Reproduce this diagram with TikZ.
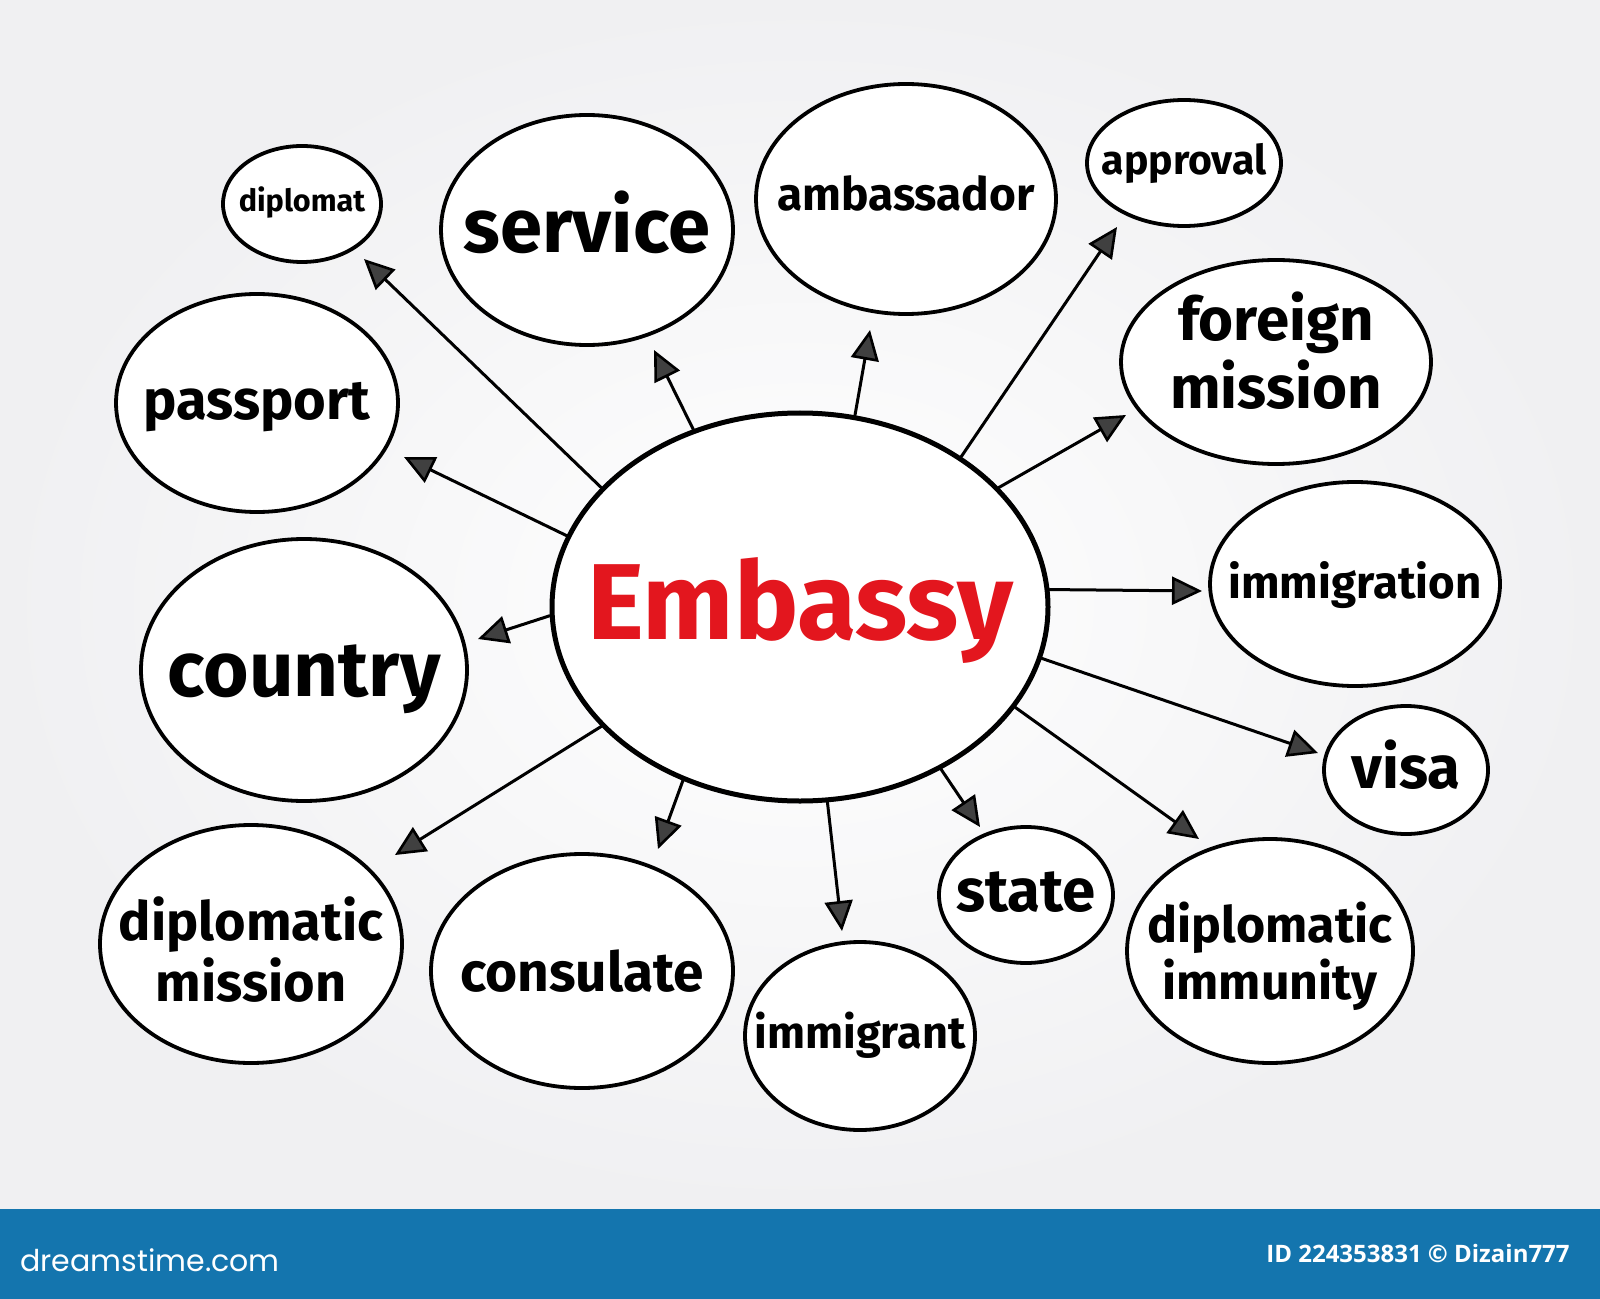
\documentclass[tikz,border=0pt]{standalone}
\usepackage{fontspec}
\setmainfont{Fira Sans}
\newfontfamily\bannerfont{Poppins}
\newfontfamily\idfont{Open Sans}
\usetikzlibrary{shapes.geometric,arrows.meta}
\definecolor{bgedge}{HTML}{F0F0F2}
\definecolor{bannerblue}{HTML}{1475AE}
\definecolor{embred}{HTML}{E3161E}
\newcommand\zt[2][0pt]{\raisebox{-#1}[\height][\depth]{\makebox[0pt]{\begin{tabular}{@{}c@{}}#2\end{tabular}}}}
\newcommand\fs[2]{\fontsize{#1}{#2}\selectfont}
\begin{document}
\begin{tikzpicture}[x=0.5pt,y=-0.5pt,
  bub/.style={ellipse, draw=black, line width=1.9pt, fill=white, inner sep=0pt, font=\bfseries},
  arr/.style={line width=1.5pt, line cap=round, line join=round,
    -{Triangle[length=15pt,width=14pt,fill=black!75,line width=1.3pt]}}]
\useasboundingbox (0,0) rectangle (1600,1299);
\shade[inner color=white, outer color=bgedge] (0,0) rectangle (1600,1209);
\fill[bannerblue] (0,1209) rectangle (1600,1299);
\node[font=\bannerfont\fs{15}{18}, text=white, anchor=base west, inner sep=0pt] (dt) at (20,1271) {dreamstime.com};
\node[font=\idfont\bfseries\fs{12}{14}, text=white, anchor=base east, inner sep=0pt] (id) at (1570,1262) {ID 224353831 © Dizain777};

% central node
\node[bub, line width=2.5pt, minimum width=248pt, minimum height=194pt, font=\bfseries\fs{54}{60}, text=embred] (emb) at (800,607) {\zt[4pt]{Embassy}};

% outer nodes
\node[bub, minimum width=79pt, minimum height=58pt, font=\bfseries\fs{15.3}{17}] (diplomat) at (302,204) {\zt{diplomat}};
\node[bub, minimum width=146pt, minimum height=115pt, font=\bfseries\fs{38}{40}] (service) at (587,230) {\zt[2pt]{service}};
\node[bub, minimum width=150pt, minimum height=115pt, font=\bfseries\fs{23}{25}] (ambassador) at (906,199) {\zt[1pt]{ambassador}};
\node[bub, minimum width=97pt, minimum height=63pt, font=\bfseries\fs{20.5}{22}] (approval) at (1184,163) {\zt[1.5pt]{approval}};
\node[bub, minimum width=155pt, minimum height=102pt, font=\bfseries\fs{30}{32}] (foreign) at (1276,362) {\zt[-1pt]{foreign\\mission}};
\node[bub, minimum width=141pt, minimum height=109pt, font=\bfseries\fs{28}{30}] (passport) at (257,403) {\zt[2pt]{passport}};
\node[bub, minimum width=145pt, minimum height=102pt, font=\bfseries\fs{22.8}{25}] (immigration) at (1355,584) {\zt[2pt]{immigration}};
\node[bub, minimum width=163pt, minimum height=131pt, font=\bfseries\fs{39}{41}] (country) at (304,670) {\zt[5pt]{country}};
\node[bub, minimum width=82pt, minimum height=64pt, font=\bfseries\fs{30}{32}] (visa) at (1406,770) {\zt[2pt]{visa}};
\node[bub, minimum width=151pt, minimum height=119pt, font=\bfseries\fs{27}{30}] (dipmission) at (251,944) {\zt[7pt]{diplomatic\\mission}};
\node[bub, minimum width=151pt, minimum height=117pt, font=\bfseries\fs{27.5}{30}] (consulate) at (582,971) {\zt[4pt]{consulate}};
\node[bub, minimum width=115pt, minimum height=94pt, font=\bfseries\fs{22.5}{25}] (immigrant) at (860,1036) {\zt[1pt]{immigrant}};
\node[bub, minimum width=87pt, minimum height=68pt, font=\bfseries\fs{30}{32}] (state) at (1026,895) {\zt[2pt]{state}};
\node[bub, minimum width=143pt, minimum height=112pt, font=\bfseries\fs{25}{28}] (dipimmunity) at (1270,951) {\zt[4pt]{diplomatic\\immunity}};

% arrow tips (free ends)
\coordinate (t1) at (364,259);
\coordinate (t2) at (654,350);
\coordinate (t3) at (870,330);
\coordinate (t4) at (1117,227);
\coordinate (t5) at (1126,415);
\coordinate (t6) at (404,457);
\coordinate (t7) at (1202,591);
\coordinate (t8) at (478,639);
\coordinate (t9) at (1318,753);
\coordinate (t10) at (395,855);
\coordinate (t11) at (658,849);
\coordinate (t12) at (842,931);
\coordinate (t13) at (980,827);
\coordinate (t14) at (1199,839);

\draw[arr] (emb.149) -- (t1);
\draw[arr] (emb.121) -- (t2);
\draw[arr] (emb.74) -- (t3);
\draw[arr] (emb.43) -- (t4);
\draw[arr] (emb.31) -- (t5);
\draw[arr] (emb.163) -- (t6);
\draw[arr] (emb.4) -- (t7);
\draw[arr] (emb.182) -- (t8);
\draw[arr] (emb.-12) -- (t9);
\draw[arr] (emb.211) -- (t10);
\draw[arr] (emb.236) -- (t11);
\draw[arr] (emb.278) -- (t12);
\draw[arr] (emb.-49) -- (t13);
\draw[arr] (emb.-25) -- (t14);
\end{tikzpicture}
\end{document}
